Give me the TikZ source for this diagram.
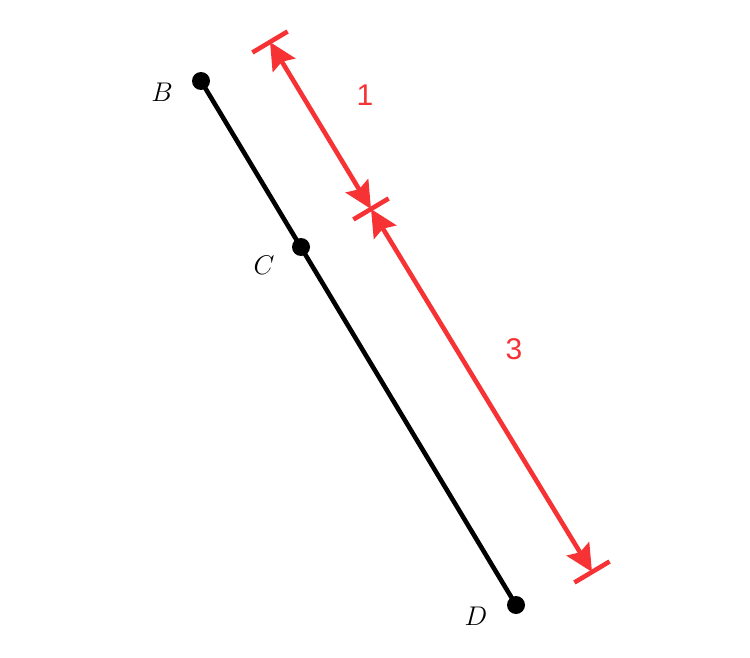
\documentclass[tikz,border=0pt]{standalone}
\usepackage{fix-cm}
\usepackage{fontspec}
\newfontfamily\dimfont{Liberation Sans}
\usetikzlibrary{arrows.meta,calc}
\definecolor{dimred}{RGB}{246,50,52}
\begin{document}
\begin{tikzpicture}[x=1pt,y=-1pt,
  seg/.style={line width=4.6pt,black},
  dot/.style={circle,fill=black,inner sep=0pt,minimum size=18pt},
  dimline/.style={line width=4.6pt,dimred,{Stealth[length=27pt,width=26pt,inset=4pt]}-{Stealth[length=27pt,width=26pt,inset=4pt]}},
  tickln/.style={line width=4.6pt,dimred},
  ptlabel/.style={font=\fontsize{27}{32}\selectfont},
  dimlabel/.style={text=dimred,font=\fontsize{30}{36}\selectfont\dimfont}]
\useasboundingbox (0,0) rectangle (750,658);
\node[dot] (B) at (201,81) {};
\node[dot] (C) at (301,247) {};
\node[dot] (D) at (516,605) {};
\draw[seg] (B.center) -- (D.center);
\node[ptlabel] (lB) at (162,92) {$B$};
\node[ptlabel] (lC) at (264,265) {$C$};
\node[ptlabel] (lD) at (476,616) {$D$};
\coordinate (T1) at (270,42);
\coordinate (T2) at (371,209);
\coordinate (T3) at (592,572);
\foreach \t in {T1,T2,T3}{
  \draw[tickln] ($(\t)+(-17.6,10.5)$) -- ($(\t)+(17.6,-10.5)$);
}
\draw[dimline] (T1) -- (T2);
\draw[dimline] (T2) -- (T3);
\node[dimlabel] (n1) at (365,95) {1};
\node[dimlabel] (n3) at (514,349) {3};
\end{tikzpicture}
\end{document}
